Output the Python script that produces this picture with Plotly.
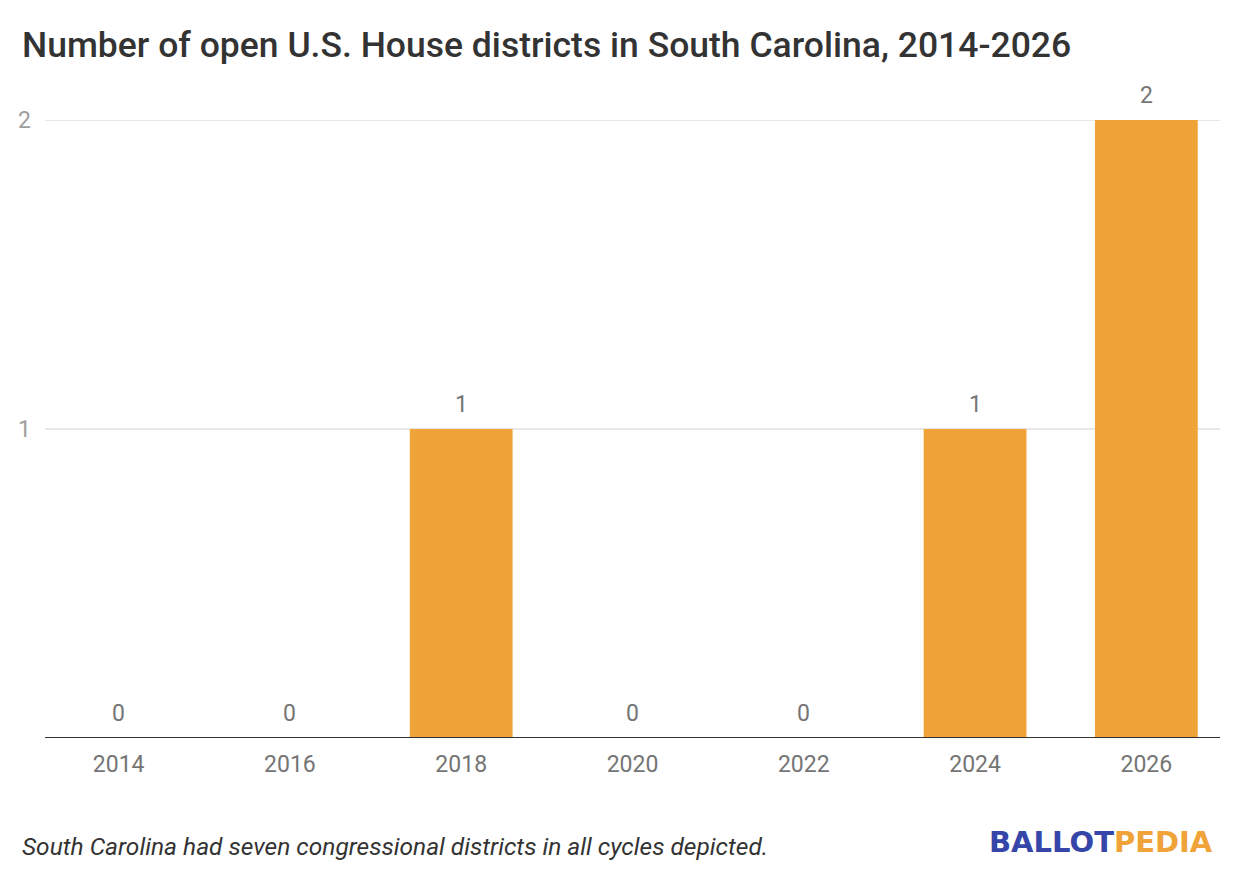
import plotly.graph_objects as go

years = ["2014", "2016", "2018", "2020", "2022", "2024", "2026"]
open_districts = [0, 0, 1, 0, 0, 1, 2]
y_ticks = [1, 2]

BAR = "#F0A338"
W, H = 1240, 880
L, R, T, B = 33, 8, 120, 142
PW, PH = W - L - R, H - T - B

fig = go.Figure()
fig.add_trace(go.Bar(
    x=years, y=open_districts, marker=dict(color=BAR, line=dict(width=0)),
    hoverinfo="x+y", showlegend=False,
))

for i, v in enumerate(open_districts):
    fig.add_annotation(x=i, y=v, xref="x", yref="y", text=str(v), showarrow=False,
                       yshift=25, font=dict(family="Roboto", size=23, color="#757575"))

# gridlines and baseline
for t in y_ticks:
    fig.add_shape(type="line", xref="x", yref="y", x0=-0.43, x1=6.43, y0=t, y1=t,
                  line=dict(color="#e0e0e0", width=1.5), layer="below")
fig.add_shape(type="line", xref="x", yref="y", x0=-0.43, x1=6.43, y0=0, y1=0,
              line=dict(color="#333333", width=2), layer="above")

fig.update_layout(
    width=W, height=H,
    margin=dict(l=L, r=R, t=T, b=B),
    plot_bgcolor="white", paper_bgcolor="white",
    bargap=0.4,
    font=dict(family="Roboto", color="#757575"),
    xaxis=dict(type="category", range=[-0.5, 6.5], showgrid=False, showline=False,
               zeroline=False, ticks="", tickfont=dict(size=23, color="#757575"),
               ticklabelstandoff=10),
    yaxis=dict(range=[0, 2], tickvals=y_ticks, showgrid=False, zeroline=False,
               showline=False, ticks="", tickfont=dict(size=23, color="#9e9e9e"),
               ticklabelstandoff=1),
)

# title
fig.add_annotation(xref="paper", yref="paper",
                   x=(20 - L) / PW, y=1 + (120 - 45) / PH,
                   xanchor="left", yanchor="middle", showarrow=False,
                   text="Number of open U.S. House districts in South Carolina, 2014-2026",
                   font=dict(family="Roboto", size=35.5, color="#333333", weight=500))

# footer note
fig.add_annotation(xref="paper", yref="paper",
                   x=(20 - L) / PW, y=-(846 - 738) / PH,
                   xanchor="left", yanchor="middle", showarrow=False,
                   text="<i>South Carolina had seven congressional districts in all cycles depicted.</i>",
                   font=dict(family="Roboto", size=24.5, color="#333333"))

# logo
fig.add_annotation(xref="paper", yref="paper",
                   x=(1215 - L) / PW, y=-(842 - 738) / PH,
                   xanchor="right", yanchor="middle", showarrow=False,
                   text="<b><span style='color:#3545A8'>BALLOT</span><span style='color:#F0A338'>PEDIA</span></b>",
                   font=dict(family="DejaVu Sans", size=29))

fig.write_html("out.html")
